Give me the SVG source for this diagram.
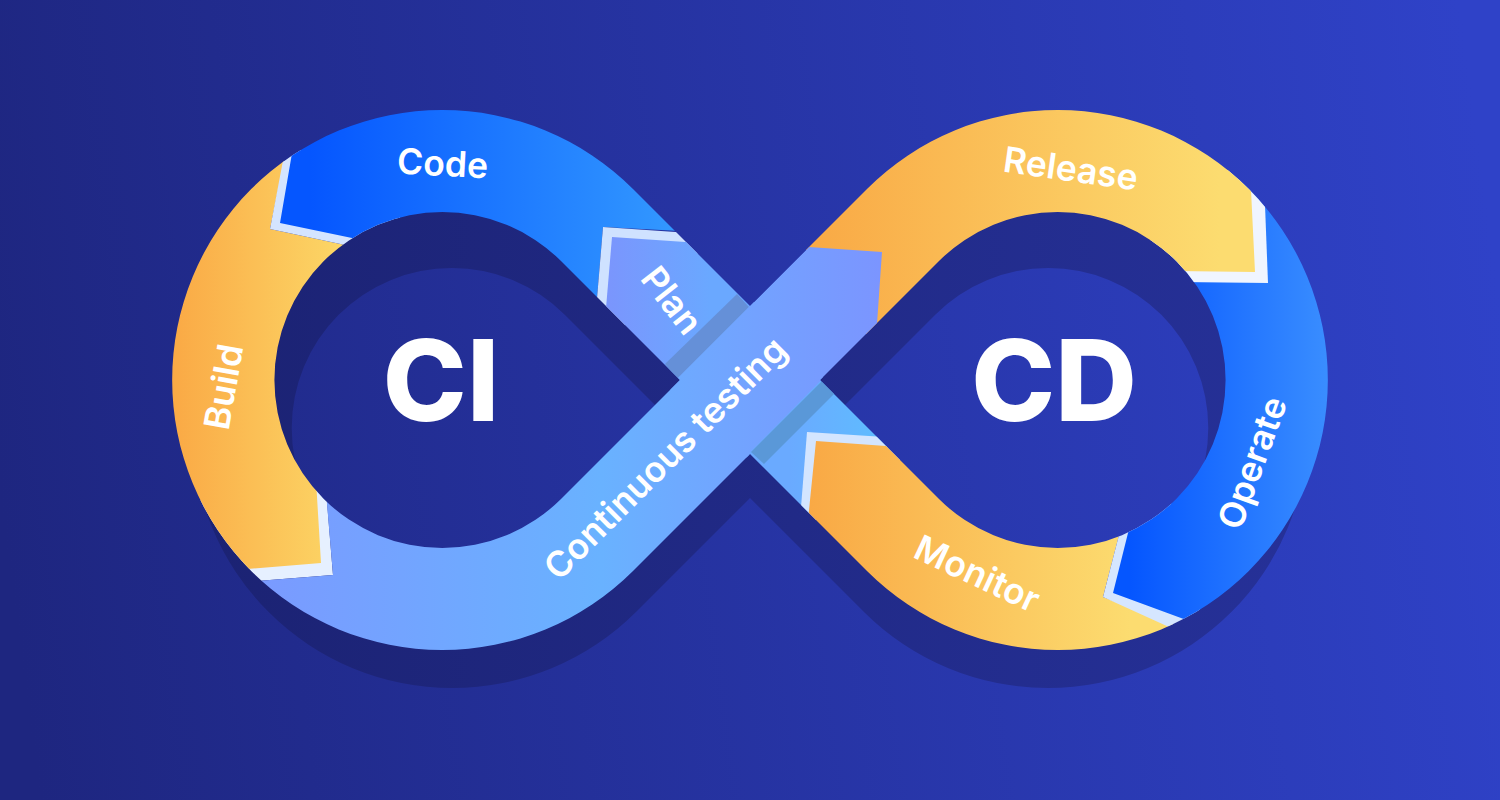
<svg xmlns="http://www.w3.org/2000/svg" width="1500" height="800" viewBox="0 0 1500 800">
<style>
text{font-family:"Inter","Liberation Sans",sans-serif;fill:#fff;text-anchor:middle}
.l{font-size:35.5px;font-weight:600}
.b{font-size:113px;font-weight:800}
</style>
<defs>
<linearGradient id="bg" gradientUnits="userSpaceOnUse" x1="0" y1="500" x2="1500" y2="300"><stop offset="0" stop-color="#1e2680"/><stop offset="1" stop-color="#2f42c8"/></linearGradient>
<linearGradient id="sh" gradientUnits="userSpaceOnUse" x1="170" y1="0" x2="1330" y2="0"><stop offset="0" stop-color="#1b2272"/><stop offset="1" stop-color="#263199"/></linearGradient>
<linearGradient id="gBuild" gradientUnits="userSpaceOnUse" x1="172" y1="0" x2="340" y2="0"><stop offset="0" stop-color="#faa945"/><stop offset="1" stop-color="#fcd666"/></linearGradient>
<linearGradient id="gCode" gradientUnits="userSpaceOnUse" x1="310" y1="0" x2="680" y2="0"><stop offset="0" stop-color="#0556ff"/><stop offset="1" stop-color="#3399ff"/></linearGradient>
<linearGradient id="gPlan" gradientUnits="userSpaceOnUse" x1="610" y1="0" x2="710" y2="0"><stop offset="0" stop-color="#7a96fd"/><stop offset="1" stop-color="#6aa8ff"/></linearGradient>
<linearGradient id="gCont" gradientUnits="userSpaceOnUse" x1="260" y1="0" x2="880" y2="0"><stop offset="0" stop-color="#7a9aff"/><stop offset=".55" stop-color="#69b2ff"/><stop offset="1" stop-color="#7b95ff"/></linearGradient>
<linearGradient id="gLight" gradientUnits="userSpaceOnUse" x1="790" y1="0" x2="880" y2="0"><stop offset="0" stop-color="#6aaaff"/><stop offset="1" stop-color="#5fbcff"/></linearGradient>
<linearGradient id="gMon" gradientUnits="userSpaceOnUse" x1="810" y1="0" x2="1130" y2="0"><stop offset="0" stop-color="#f9a945"/><stop offset="1" stop-color="#fcdc70"/></linearGradient>
<linearGradient id="gRel" gradientUnits="userSpaceOnUse" x1="810" y1="0" x2="1220" y2="0"><stop offset="0" stop-color="#f9a945"/><stop offset="1" stop-color="#fcdc70"/></linearGradient>
<linearGradient id="gOp" gradientUnits="userSpaceOnUse" x1="1130" y1="0" x2="1330" y2="0"><stop offset="0" stop-color="#0556ff"/><stop offset="1" stop-color="#3a8eff"/></linearGradient>
<clipPath id="band"><path clip-rule="evenodd" d="M750,306 L633,189 A270,270 0 1 0 633,571 L750,454 L867,571 A270,270 0 1 0 867,189 Z M680,380 L561,261 A168,168 0 1 0 561,499 Z M820,380 L939,261 A168,168 0 1 1 939,499 Z"/></clipPath>
</defs>
<rect id="background" width="1500" height="800" fill="url(#bg)"/>
<path id="shadow" fill="url(#sh)" fill-rule="evenodd" d="M750,358 L636,244 A260,260 0 1 0 636,612 L750,498 L864,612 A260,260 0 1 0 864,244 Z M678,428 L565,315 A160,160 0 1 0 565,541 Z M822,428 L935,315 A160,160 0 1 1 935,541 Z"/>
<g id="ribbon" clip-path="url(#band)">
<g id="build-shape">
<polygon fill="#e6f0ff" points="333,575 326,490 200,500 230,583"/>
<polygon fill="url(#gBuild)" points="321,563 316,480 350,380 345,245 270,229 284,161 286,120 100,120 100,573 200,573"/>
</g>
<g id="code-shape">
<polygon fill="#d4e4ff" points="270,229 285,150 400,150 400,260 345,245"/>
<polygon fill="url(#gCode)" points="280,223 296,130 296,100 700,100 700,232 603,227 597,298 560,300 350,300 352,238"/>
</g>
<g id="plan-shape">
<polygon fill="#cfe2ff" points="603,227 690,233 700,260 620,330 596,310"/>
<polygon fill="url(#gPlan)" points="612,237 700,243 780,330 670,390 605,320"/>
<polygon fill="#6590d8" points="737,294 749,307 677,379 665,364"/>
</g>
<g id="monitor-shape">
<polygon fill="url(#gLight)" points="820,375 900,437 800,520 740,450"/>
<polygon fill="#5a98d8" points="823,380 835,393 764,464 751,452"/>
<polygon fill="#d3e5ff" points="807,432 900,438 900,520 800,520"/>
<polygon fill="url(#gMon)" points="816,441 900,447 1000,480 1125,512 1103,597 1173,624 1190,631 1190,700 800,700 808,520"/>
</g>
<g id="operate-shape">
<polygon fill="#d5e6ff" points="1103,597 1119,535 1125,510 1200,500 1200,640 1180,632"/>
<polygon fill="url(#gOp)" points="1113,593 1135,505 1170,300 1170,180 1400,180 1400,700 1240,660 1200,625"/>
</g>
<g id="release-shape">
<polygon fill="#f0f5ff" points="1268,283 1265,205 1262,170 1150,170 1150,280 1180,282"/>
<polygon fill="url(#gRel)" points="1255,272 1251,190 1245,100 800,100 806,250 870,340 940,300 1060,270 1175,271"/>
</g>
<g id="testing-shape">
<polygon fill="url(#gCont)" points="230,583 333,575 327,504 325,485 442,420 676,380 809,247 882,252 877,324 750,452 700,700 230,700"/>
</g>
</g>
<g id="labels">
<g id="code"><text class="l" transform="translate(442,176) rotate(3)">Code</text></g>
<g id="release"><text class="l" transform="translate(1069,181) rotate(8)">Release</text></g>
<g id="build"><text class="l" transform="translate(236,389) rotate(-80)">Build</text></g>
<g id="plan"><text class="l" transform="translate(662,308) rotate(52)">Plan</text></g>
<g id="testing"><text class="l" transform="translate(674,467) rotate(-45)">Continuous testing</text></g>
<g id="operate"><text class="l" transform="translate(1264,467) rotate(-70)">Operate</text></g>
<g id="monitor"><text class="l" transform="translate(972,585) rotate(25)">Monitor</text></g>
<g id="ci"><text class="b" x="441" y="421">CI</text></g>
<g id="cd"><text class="b" x="1054" y="421">CD</text></g>
</g>
</svg>
